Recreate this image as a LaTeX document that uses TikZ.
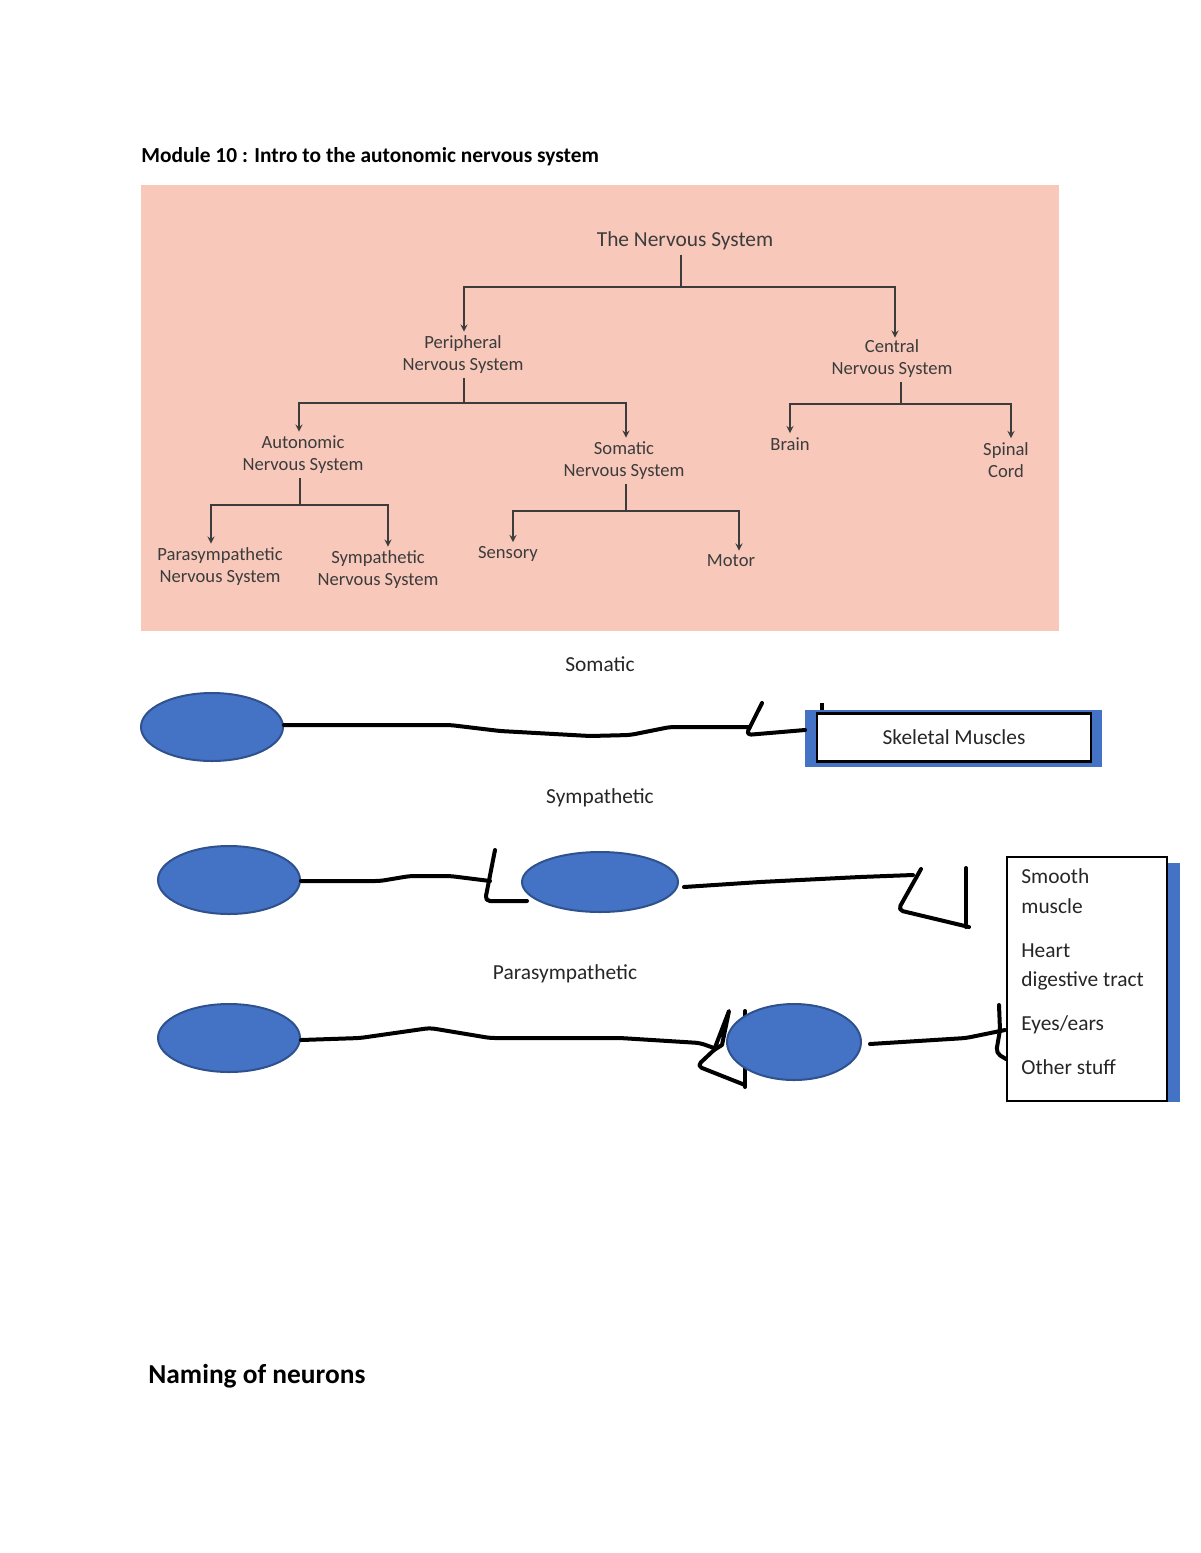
\documentclass[tikz,border=0pt]{standalone}
\usepackage{xcolor}
\usepackage{fontspec}
\setmainfont{Carlito}
\usetikzlibrary{shapes,arrows,positioning}
\definecolor{panelpink}{HTML}{F8C8BA}
\definecolor{neuronblue}{HTML}{4472C4}
\definecolor{neuronedge}{HTML}{2F528F}
\definecolor{treegrey}{HTML}{3C3C3C}
\tikzset{neuron/.style={
    ellipse,
    draw=neuronedge,
    fill=neuronblue,
    line width=1pt,
    minimum width=71pt,
    minimum height=34pt,
}}
\tikzset{axon/.style={
    draw=black,
    line width=2pt,
    line join=round,
    line cap=round,
    rounded corners=2.5pt,
}}
\tikzset{sectionlabel/.style={
    font=\fontsize{10.7}{12}\selectfont,
    text=black!85,
}}
\tikzset{treelabel/.style={
    font=\fontsize{9.3}{11}\selectfont,
    text=treegrey,
    inner sep=2pt,
}}
\tikzset{branch/.style={
    draw=treegrey,
    line width=0.6pt,
}}
\tikzset{branchtip/.style={
    branch,
    -{stealth},
}}
\begin{document}
\begin{tikzpicture}[
                x=0.5pt,y=-0.5pt,
                align=center,
                node distance=0.0cm
        ]
            \useasboundingbox (0,0) rectangle (1200,1553);
            \node[anchor=west, inner sep=0, font=\fontsize{10.7}{12}\selectfont\bfseries] (title) at (141,157) {Module 10 : Intro to the autonomic nervous system};
            \fill[panelpink] (141,185) rectangle (1059,631);

            % the tree
            \node[treelabel, font=\fontsize{10.7}{12}\selectfont] (nervous) at (685,241) {The Nervous System};
            \node[treelabel] (peripheral) at (463,355) {Peripheral\\Nervous System};
            \node[treelabel] (central) at (892,359) {Central\\Nervous System};
            \node[treelabel] (autonomic) at (303,455) {Autonomic\\Nervous System};
            \node[treelabel] (somatictree) at (624,461) {Somatic\\Nervous System};
            \node[treelabel] (brain) at (790,444) {Brain};
            \node[treelabel] (spinal) at (1006,460) {Spinal\\Cord};
            \node[treelabel] (parasym) at (220,567) {Parasympathetic\\Nervous System};
            \node[treelabel] (sym) at (378,570) {Sympathetic\\Nervous System};
            \node[treelabel] (sensory) at (508,554) {Sensory};
            \node[treelabel] (motor) at (731,561) {Motor};

            \coordinate (hubroot) at (681,287);
            \coordinate (hubperi) at (464,403);
            \coordinate (hubcent) at (901,404);
            \coordinate (hubauto) at (300,505);
            \coordinate (hubsoma) at (626,511);

            \draw[branch] (nervous.south -| hubroot) -- (hubroot);
            \draw[branchtip] (hubroot) -| (peripheral.north -| hubperi);
            \draw[branchtip] (hubroot) -| ([xshift=1.5pt,yshift=-1pt]central.north);
            \draw[branch] (peripheral.south -| hubperi) -- (hubperi);
            \draw[branchtip] (hubperi) -| ([xshift=-2pt]autonomic.north);
            \draw[branchtip] (hubperi) -| ([xshift=1pt]somatictree.north);
            \draw[branch] (central.south -| hubcent) -- (hubcent);
            \draw[branchtip] (hubcent) -| (brain.north);
            \draw[branchtip] (hubcent) -| ([xshift=2.5pt]spinal.north);
            \draw[branch] (autonomic.south -| hubauto) -- (hubauto);
            \draw[branchtip] (hubauto) -| ([xshift=-4.5pt]parasym.north);
            \draw[branchtip] (hubauto) -| ([xshift=5pt]sym.north);
            \draw[branch] (somatictree.south -| hubsoma) -- (hubsoma);
            \draw[branchtip] (hubsoma) -| ([xshift=2.5pt]sensory.north);
            \draw[branchtip] (hubsoma) -| ([xshift=4pt]motor.north);

            % section labels
            \node[sectionlabel] (somaticlabel) at (600,664) {Somatic};
            \node[sectionlabel] (symlabel) at (600,798) {Sympathetic};
            \node[sectionlabel] (paralabel) at (565,974) {Parasympathetic};

            % neurons
            \node[neuron] (somaone) at (212,727) {};
            \node[neuron] (symone) at (229,880) {};
            \node[neuron, minimum width=78pt, minimum height=30pt, right=110pt of symone, yshift=-1pt] (symtwo) {};
            \node[neuron, below=44pt of symone] (paraone) {};

            % the targets
            \fill[neuronblue] (1150,863) rectangle (1180,1102);
            \node[draw, fill=white, line width=1pt, minimum width=80pt, minimum height=122pt] (organs) at (1086.5,979) {};
            \node[anchor=north west, align=left, inner sep=0, font=\fontsize{10.7}{14.5}\selectfont, text=black!85] (organtext) at (1021,868) {Smooth\\[0.5pt]muscle\\[7.5pt]Heart\\digestive tract\\[7.5pt]Eyes/ears\\[7.5pt]Other stuff};

            \node[draw=neuronblue, fill=neuronblue, minimum width=148pt, minimum height=28pt, inner sep=0] (skeletalback) at (953.5,738.5) {};
            \coordinate (tickend) at (822,703);

            % the hand drawn axons
            \draw[axon] ([yshift=1pt]somaone.east) -- (450,725) -- (500,731) -- (590,736) -- (630,735) -- (670,727) -- (750,727);
            \draw[axon] (762,703) -- (746,735) -- (skeletalback.west |- 0,730);
            \draw[axon, line cap=butt] (tickend) -- (tickend |- skeletalback.north);
            \node[draw, fill=white, line width=1.2pt, minimum width=137pt, minimum height=24pt, inner sep=0, sectionlabel] (skeletal) at (954,737.5) {Skeletal Muscles};

            \draw[axon] ([yshift=-0.5pt]symone.east) -- (380,881) -- (410,876) -- (450,876) -- (490,881);
            \draw[axon] (495,850) -- (485,901) -- ([xshift=3pt]symtwo.west |- 0,901);
            \draw[axon] (684,887) -- (760,882) -- (860,877) -- (913,875);
            \draw[axon] (921,869) -- (898,910) -- (969,927);
            \draw[axon, rounded corners=0pt] (966,868) -- (966,927);

            \draw[axon] ([yshift=-1pt]paraone.east) -- (360,1038) -- (430,1028) -- (490,1038) -- (620,1038) -- (700,1043) -- (714,1048);
            \draw[axon, rounded corners=0pt] (729,1011) -- (714,1050) -- (722,1045) -- cycle;
            \draw[axon] (714,1050) -- (697,1066) -- (745,1085);
            \draw[axon, rounded corners=0pt] (745,1011) -- (745,1087);
            \node[neuron, minimum width=67pt, minimum height=38pt, right=212.5pt of paraone, yshift=-2pt] (paratwo) {};

            \draw[axon] (870,1044) -- (966,1038) -- (1005,1030);
            \draw[axon] (999,1005) -- (1000,1030) -- (996,1053) -- (1006,1059);

            % the heading at the bottom
            \node[anchor=west, inner sep=0, font=\fontsize{13.7}{15}\selectfont\bfseries] (naming) at (148,1376) {Naming of neurons};
        \end{tikzpicture}
\end{document}
